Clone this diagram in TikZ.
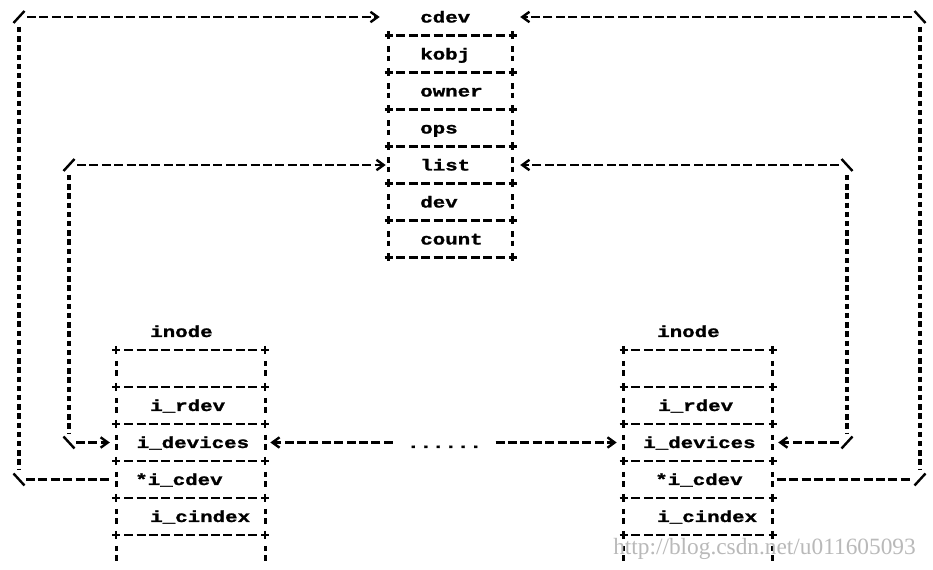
\documentclass[tikz,border=0pt]{standalone}
\usepackage{fontspec}
\newfontfamily\asciifont[FakeStretch=1.3,BoldFeatures={FakeBold=1.3}]{Liberation Mono}
\newfontfamily\wmfont{Liberation Serif}
\usetikzlibrary{arrows.meta}
\definecolor{wmgray}{RGB}{185,185,185}
\tikzset{
  crossmark/.pic={\draw[line width=1.8pt] (-4,0) -- (4,0) (0,-4) -- (0,4);},
}
\begin{document}
\begin{tikzpicture}[x=0.75pt,y=-0.75pt,
  hd/.style={line width=1.9pt, dash pattern=on 6.75pt off 2.55pt},
  vd/.style={line width=2.3pt, dash pattern=on 4.1pt off 2.8pt},
  slash/.style={line width=1.8pt},
  cell/.style={draw=none, inner sep=0pt, minimum height=27.75pt},
  cdevcell/.style={cell, minimum width=93pt},
  inocell/.style={cell, minimum width=111.75pt},
  lbl/.style={inner sep=0pt, anchor=base west, font=\asciifont\bfseries\fontsize{12}{13}\selectfont},
  tip/.style={-{Straight Barb[length=5.4pt,width=7.8pt,line width=1.8pt]}},
]
\useasboundingbox (0,0) rectangle (933,570);
\fill[white] (0,0) rectangle (933,570);

% ---------------- cdev structure ----------------
\node[cdevcell] (cdevH) at (450.5,17) {};
\node[cdevcell] (kobj)  at (450.5,54) {};
\node[cdevcell] (owner) at (450.5,91) {};
\node[cdevcell] (ops)   at (450.5,128) {};
\node[cdevcell] (list)  at (450.5,165) {};
\node[cdevcell] (dev)   at (450.5,202) {};
\node[cdevcell] (count) at (450.5,239) {};
\node[lbl] (cdevT)  at (420,22.5)  {cdev};
\node[lbl] (kobjT)  at (420,59.5)  {kobj};
\node[lbl] (ownerT) at (420,96.5)  {owner};
\node[lbl] (opsT)   at (420,133.5) {ops};
\node[lbl] (listT)  at (420,170.5) {list};
\node[lbl] (devT)   at (420,207.5) {dev};
\node[lbl] (countT) at (420,244.5) {count};
\foreach \y in {35.5,72.5,109.5,146.5,183.5,220.5,257.5}{
  \draw[hd] (396.4,\y) -- (504.6,\y);
  \pic at (388.5,\y) {crossmark};
  \pic at (512.5,\y) {crossmark};
}
\foreach \y in {54,91,128,165,202,239}{
  \draw[vd] (388.5,{\y-7.5}) -- (388.5,{\y+7.5});
  \draw[vd] (512.5,{\y-7.5}) -- (512.5,{\y+7.5});
}

% ---------------- left inode ----------------
\node[inocell] (lin0)  at (190.75,368.5) {};
\node[inocell] (lrdev) at (190.75,405.5) {};
\node[inocell] (ldev)  at (190.75,442.5) {};
\node[inocell] (lcdev) at (190.75,479.5) {};
\node[inocell] (lcidx) at (190.75,516.5) {};
\node[lbl] (linodeT) at (150,337)   {inode};
\node[lbl] (lrdevT)  at (150,411)   {i\_rdev};
\node[lbl] (ldevT)   at (136.5,448) {i\_devices};
\node[lbl] (lcdevT)  at (135,485)   {*i\_cdev};
\node[lbl] (lcidxT)  at (150,522)   {i\_cindex};

% ---------------- right inode ----------------
\node[inocell] (rin0)  at (698,368.5) {};
\node[inocell] (rrdev) at (698,405.5) {};
\node[inocell] (rdev)  at (698,442.5) {};
\node[inocell] (rcdev) at (698,479.5) {};
\node[inocell] (rcidx) at (698,516.5) {};
\node[lbl] (rinodeT) at (657,337) {inode};
\node[lbl] (rrdevT)  at (658,411) {i\_rdev};
\node[lbl] (rdevT)   at (643,448) {i\_devices};
\node[lbl] (rcdevT)  at (655,485) {*i\_cdev};
\node[lbl] (rcidxT)  at (657,522) {i\_cindex};

\foreach \xl/\xr in {116.25/265.25, 623.5/772.5}{
  \foreach \y in {350,387,424,461,498,535}{
    \draw[hd] ({\xl+7.9},\y) -- ({\xr-7.9},\y);
    \pic at (\xl,\y) {crossmark};
    \pic at (\xr,\y) {crossmark};
  }
  \foreach \y in {368.5,405.5,442.5,479.5,516.5,553.5}{
    \draw[vd] (\xl,{\y-7.5}) -- (\xl,{\y+7.5});
    \draw[vd] (\xr,{\y-7.5}) -- (\xr,{\y+7.5});
  }
}

% ---------------- outer left loop ----------------
\coordinate (olt) at (19,17);
\coordinate (olb) at (19,479.5);
\draw[slash] ([shift={(-5.5,6)}]olt) -- ([shift={(5.5,-6)}]olt);
\draw[hd,tip,shorten >=6.4pt] ([shift={(8,0)}]olt) -- (cdevH.west);
\draw[vd] ([shift={(0,10)}]olt) -- ([shift={(0,-9)}]olb);
\draw[slash] ([shift={(-5.5,-6)}]olb) -- ([shift={(5.5,6)}]olb);
\draw[hd,shorten >=4.6pt] ([shift={(7,0)}]olb) -- (lcdev.west);

% ---------------- outer right loop ----------------
\coordinate (ort) at (920,17);
\coordinate (orb) at (920,479.5);
\draw[slash] ([shift={(-5.5,-6)}]ort) -- ([shift={(5.5,6)}]ort);
\draw[hd,tip,shorten >=5.6pt] ([shift={(-8,0)}]ort) -- (cdevH.east);
\draw[vd] ([shift={(0,10)}]ort) -- ([shift={(0,-9)}]orb);
\draw[slash] ([shift={(-5.5,6)}]orb) -- ([shift={(5.5,-6)}]orb);
\draw[hd,shorten <=3pt] (rcdev.east) -- ([shift={(-7,0)}]orb);

% ---------------- inner left loop ----------------
\coordinate (ilt) at (69,165);
\coordinate (ilb) at (69,442.5);
\draw[slash] ([shift={(-5.5,6)}]ilt) -- ([shift={(5.5,-6)}]ilt);
\draw[hd,tip,shorten >=1.9pt] ([shift={(8,0)}]ilt) -- (list.west);
\draw[vd] ([shift={(0,10)}]ilt) -- ([shift={(0,-9)}]ilb);
\draw[slash] ([shift={(-5.5,-6)}]ilb) -- ([shift={(5.5,6)}]ilb);
\draw[hd,tip,shorten >=4.6pt] ([shift={(7,0)}]ilb) -- (ldev.west);

% ---------------- inner right loop ----------------
\coordinate (irt) at (847,165);
\coordinate (irb) at (847,442.5);
\draw[slash] ([shift={(-5.5,-6)}]irt) -- ([shift={(5.5,6)}]irt);
\draw[hd,tip,shorten >=5.6pt] ([shift={(-8,0)}]irt) -- (list.east);
\draw[vd] ([shift={(0,10)}]irt) -- ([shift={(0,-9)}]irb);
\draw[slash] ([shift={(-5.5,6)}]irb) -- ([shift={(5.5,-6)}]irb);
\draw[hd,tip,shorten >=4.1pt] ([shift={(-8,0)}]irb) -- (rdev.east);

% ---------------- middle link ----------------
\node[lbl,anchor=base] (dots) at (444.5,448) {......};
\draw[hd,tip,shorten <=10.5pt,shorten >=3.6pt] (dots.west |- ldev.east) -- (ldev.east);
\draw[hd,tip,shorten <=10pt,shorten >=4.9pt] (dots.east |- rdev.west) -- (rdev.west);

% ---------------- watermark ----------------
\node[anchor=base west,inner sep=0pt,text=wmgray,font=\wmfont\fontsize{17.5}{20}\selectfont] (wm) at (613,555) {http://blog.csdn.net/u011605093};
\end{tikzpicture}
\end{document}
